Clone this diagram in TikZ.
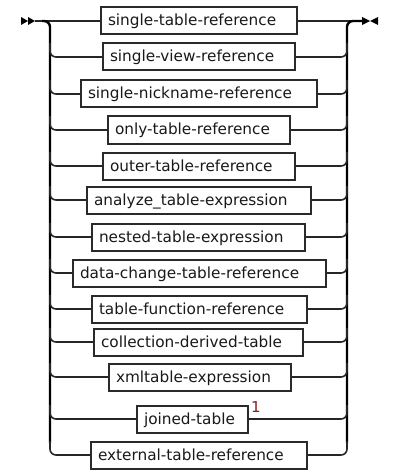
\documentclass[tikz,border=0pt]{standalone}
\usepackage{fontspec}
\setmainfont{DejaVu Sans}
\definecolor{boxline}{HTML}{2A2A2A}
\definecolor{footred}{HTML}{8B1A1A}
\begin{document}
\begin{tikzpicture}[x=1pt,y=-1pt,
  termbox/.style={draw=boxline, line width=2pt, fill=white, minimum height=27pt,
    inner xsep=7pt, inner ysep=0pt, align=left, text height=12pt, text depth=2pt,
    font=\fontsize{15.3}{18}\selectfont, text=black!90},
  branch/.style={line width=1.6pt, black!85, rounded corners=6pt},
  rail/.style={line width=2.4pt, black, rounded corners=6pt},
  tip/.style={fill=black}]
\useasboundingbox (0,0) rectangle (403,476);
\foreach \n/\t/\w/\cx/\cy in {
  1/single-table-reference/196/199/21,
  2/single-view-reference/192/199/57,
  3/single-nickname-reference/236/199/94,
  4/only-table-reference/182/199/130,
  5/outer-table-reference/192/199/166,
  6/analyze\_table-expression/224/199/200,
  7/nested-table-expression/213/198.5/237,
  8/data-change-table-reference/253/199.5/273,
  9/table-function-reference/215/199.5/309,
  10/collection-derived-table/209/198.5/342,
  11/xmltable-expression/182/200/377,
  12/joined-table/111/192.5/419,
  13/external-table-reference/216/199/455}{
  \pgfmathsetmacro{\tw}{\w-14}
  \node[termbox, text width=\tw pt] (b\n) at (\cx,\cy) {\t};
}
\coordinate (start) at (35,21);
\coordinate (end) at (362,21);
\coordinate (lt) at (50,21);
\coordinate (rt) at (347,21);
% entry and exit arrows
\fill[tip] (21,17) -- (28,21) -- (21,25) -- cycle;
\fill[tip] (28,17) -- (35,21) -- (28,25) -- cycle;
\fill[tip] (362,17) -- (370,21) -- (362,25) -- cycle;
\fill[tip] (378,17) -- (370,21) -- (378,25) -- cycle;
% main line
\draw[branch] (start) -- (b1.west);
\draw[branch] (b1.east) -- (end);
% rails
\draw[rail] ([xshift=-8pt]lt) -| ([yshift=12pt]lt |- b13.west);
\draw[rail] ([yshift=12pt]rt |- b13.east) |- (end);
% branches
\foreach \n in {2,...,13}{
  \draw[branch] ([yshift=14pt]lt |- b\n.west) |- (b\n.west);
  \draw[branch] (b\n.east) -| ([yshift=14pt]rt |- b\n.east);
}
\node[anchor=south west, inner sep=0pt, text=footred, font=\fontsize{15}{17}\selectfont] (fn) at ([xshift=2pt,yshift=-8pt]b12.north east) {1};
\end{tikzpicture}
\end{document}
